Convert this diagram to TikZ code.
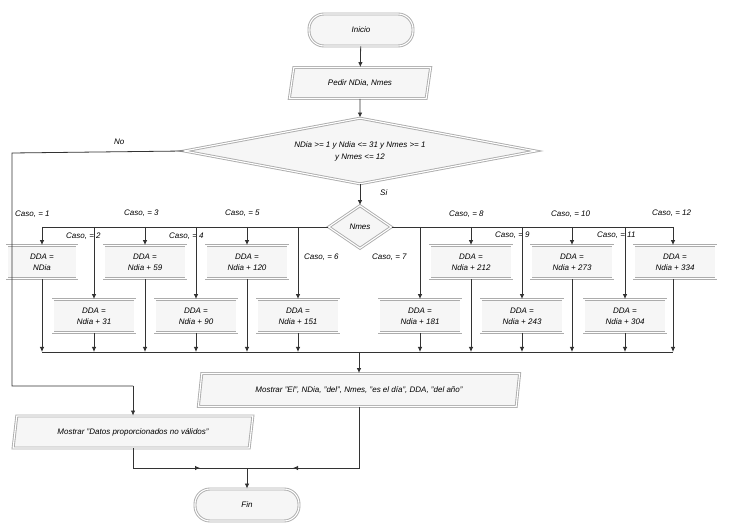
\documentclass[tikz,border=0pt]{standalone}
\usepackage{fontspec}
\setmainfont{Liberation Sans}
\usetikzlibrary{shapes.geometric,arrows.meta}
\begin{document}
\begin{tikzpicture}[x=1pt,y=-1pt,
  font=\itshape\fontsize{8}{11}\selectfont,
  dbl/.style={draw=gray!65, double=white, double distance=1.1pt, line width=0.9pt, fill=gray!7, align=center, inner sep=2pt},
  proc/.style={dbl, rectangle, minimum width=82pt, minimum height=33pt},
  term/.style={dbl, rectangle, rounded corners=15pt, minimum width=104pt, minimum height=32pt},
  io/.style={dbl, trapezium, trapezium left angle=78, trapezium right angle=102, trapezium stretches=true},
  dec/.style={dbl, diamond, aspect=1},
  ln/.style={draw=black!80, line width=0.8pt},
  ar/.style={ln, -{Latex[length=5pt,width=4.5pt]}},
  lab/.style={anchor=west, inner sep=0pt}]
\useasboundingbox (0,0) rectangle (742,529);
\node[term] (ini) at (361,30) {Inicio};
\node[io, minimum width=142pt, minimum height=31pt] (pedir) at (360,83) {Pedir NDia, Nmes};
\node[dec, diamond, minimum width=352pt, minimum height=66pt, aspect=5.3] (cond) at (360,151) {NDia >= 1 y Ndia <= 31 y Nmes >= 1\\[1pt] y Nmes <= 12};
\node[dec, minimum width=63pt, minimum height=43pt, aspect=1.5, inner sep=0pt] (nmes) at (360,227) {Nmes};
\node[proc, minimum width=70pt] (b1) at (42,262) {DDA =\\ NDia};
\node[proc] (b2) at (94,316) {DDA =\\ Ndia + 31};
\node[proc] (b3) at (145,262) {DDA =\\ Ndia + 59};
\node[proc] (b4) at (196,316) {DDA =\\ Ndia + 90};
\node[proc] (b5) at (247,262) {DDA =\\ Ndia + 120};
\node[proc] (b6) at (298,316) {DDA =\\ Ndia + 151};
\node[proc] (b7) at (420,316) {DDA =\\ Ndia + 181};
\node[proc] (b8) at (471,262) {DDA =\\ Ndia + 212};
\node[proc] (b9) at (522,316) {DDA =\\ Ndia + 243};
\node[proc] (b10) at (572,262) {DDA =\\ Ndia + 273};
\node[proc] (b11) at (625,316) {DDA =\\ Ndia + 304};
\node[proc] (b12) at (675,262) {DDA =\\ Ndia + 334};
\node[io, minimum width=322pt, minimum height=33pt] (most) at (359,390) {Mostrar "El", NDia, "del", Nmes, "es el día", DDA, "del año"};
\node[io, minimum width=240pt, minimum height=32pt] (datos) at (133,432) {Mostrar "Datos proporcionados no válidos"};
\node[term] (fin) at (247,505) {Fin};
% labels
\node[lab] (lno) at (114,142) {No};
\node[lab] (lsi) at (380,193) {Si};
\node[lab] (c1) at (15,214) {Caso, = 1};
\node[lab] (c2) at (66,236) {Caso, = 2};
\node[lab] (c3) at (124,213) {Caso, = 3};
\node[lab] (c4) at (169,236) {Caso, = 4};
\node[lab] (c5) at (225,213) {Caso, = 5};
\node[lab] (c6) at (304,257) {Caso, = 6};
\node[lab] (c7) at (372,257) {Caso, = 7};
\node[lab] (c8) at (449,214) {Caso, = 8};
\node[lab] (c9) at (495,235) {Caso, = 9};
\node[lab] (c10) at (551,214) {Caso, = 10};
\node[lab] (c11) at (597,235) {Caso, = 11};
\node[lab] (c12) at (652,213) {Caso, = 12};
% coordinates
\coordinate (bl) at (42,227);
\coordinate (br) at (673,227);
\coordinate (cl) at (42,352);
\coordinate (cr) at (673,352);
\coordinate (cm) at (359,352);
\coordinate (nl) at (12,153);
\coordinate (nb) at (12,386);
\coordinate (mj) at (247,468);
% connectors
\draw[ar] (ini) -- (pedir);
\draw[ar] (pedir) -- (cond);
\draw[ar] (cond.south) -- (nmes.north);
\draw[ln] (nmes.west) -- (bl);
\draw[ln] (nmes.east) -- (br);
\foreach \b/\x in {b1/42,b2/94,b3/145,b4/196,b5/247,b6/298,b7/420,b8/471,b9/522,b10/572,b11/625,b12/673}{
  \draw[ar] (\x,227) -- (\b.north -| \x,0);
  \draw[ar] (\b.south -| \x,0) -- (\x,352);
}
\draw[ln] (cl) -- (cr);
\draw[ar] (cm) -- (most.north -| cm);
\draw[ln] (cond.west) -- (nl) -- (nb) -- (datos.north |- nb);
\draw[ar] (datos.north |- nb) -- (datos.north);
\draw[ln] (datos.south) -- (datos.south |- mj) -- (mj);
\draw[ar] (datos.south |- mj) -- (200,468);
\draw[ln] (most.south -| cm) -- (cm |- mj) -- (mj);
\draw[ar] (cm |- mj) -- (293,468);
\draw[ar] (mj) -- (fin);
\end{tikzpicture}
\end{document}
